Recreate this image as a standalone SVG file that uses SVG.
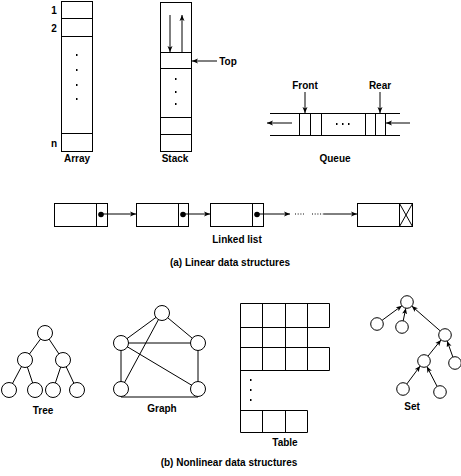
<svg xmlns="http://www.w3.org/2000/svg" width="461" height="476" viewBox="0 0 461 476">
<style>
.s{fill:none;stroke:#000;stroke-width:1}
.n{fill:#fff;stroke:#000;stroke-width:1}
.t{font-family:"Liberation Sans",Arial,sans-serif;font-size:10px;font-weight:bold;fill:#000;text-anchor:middle}
.d{fill:#000}
</style>
<defs>
<marker id="ah" markerUnits="userSpaceOnUse" markerWidth="7" markerHeight="6" refX="6" refY="3" orient="auto">
<path d="M0,0.5 L6,3 L0,5.5 L1.5,3 Z" fill="#000"/>
</marker>
</defs>
<rect width="461" height="476" fill="#fff"/>

<g id="connectors" class="s">
<line x1="170" y1="15" x2="170" y2="52" marker-end="url(#ah)"/>
<line x1="182" y1="52" x2="182" y2="15" marker-end="url(#ah)"/>
<line x1="217" y1="61" x2="192" y2="61" marker-end="url(#ah)"/>
<line x1="305" y1="92" x2="305" y2="113" marker-end="url(#ah)"/>
<line x1="380" y1="92" x2="380" y2="113" marker-end="url(#ah)"/>
<line x1="292" y1="123" x2="267" y2="123" marker-end="url(#ah)"/>
<line x1="410" y1="123" x2="386" y2="123" marker-end="url(#ah)"/>
<line x1="101" y1="214" x2="136" y2="214" marker-end="url(#ah)"/>
<line x1="183" y1="214" x2="210" y2="214" marker-end="url(#ah)"/>
<line x1="257" y1="214" x2="290" y2="214" marker-end="url(#ah)"/>
<line x1="295" y1="214" x2="304" y2="214" stroke-dasharray="1,1.7"/>
<line x1="312" y1="214" x2="324" y2="214" stroke-dasharray="1,1.7"/>
<line x1="324" y1="214" x2="357" y2="214" marker-end="url(#ah)"/>
<line x1="45" y1="333" x2="25" y2="360"/>
<line x1="45" y1="333" x2="63" y2="360"/>
<line x1="25" y1="360" x2="9" y2="390"/>
<line x1="25" y1="360" x2="35" y2="390"/>
<line x1="63" y1="360" x2="53" y2="390"/>
<line x1="63" y1="360" x2="77" y2="390"/>
<line x1="162" y1="313" x2="121" y2="343"/>
<line x1="162" y1="313" x2="198" y2="343"/>
<line x1="121" y1="343" x2="198" y2="343"/>
<line x1="121" y1="343" x2="121" y2="389"/>
<line x1="198" y1="343" x2="198" y2="389"/>
<line x1="162" y1="313" x2="121" y2="389"/>
<line x1="121" y1="343" x2="198" y2="389"/>
<line x1="121" y1="397" x2="198" y2="397"/>
<line x1="382.1" y1="320.3" x2="401.9" y2="305.7" marker-end="url(#ah)"/>
<line x1="403.2" y1="320.8" x2="405.8" y2="308.2" marker-end="url(#ah)"/>
<line x1="440.2" y1="330.9" x2="411.8" y2="306.1" marker-end="url(#ah)"/>
<line x1="428" y1="356.1" x2="441" y2="339.9" marker-end="url(#ah)"/>
<line x1="452.9" y1="357.1" x2="447.1" y2="340.9" marker-end="url(#ah)"/>
<line x1="406.8" y1="384" x2="420.2" y2="366" marker-end="url(#ah)"/>
<line x1="437.1" y1="386.4" x2="426.9" y2="366.6" marker-end="url(#ah)"/>
</g>

<g id="array">
<rect class="s" x="61.5" y="1.5" width="31" height="150"/>
<line class="s" x1="61.5" y1="18.5" x2="92.5" y2="18.5"/>
<line class="s" x1="61.5" y1="36.5" x2="92.5" y2="36.5"/>
<line class="s" x1="61.5" y1="133.5" x2="92.5" y2="133.5"/>
<rect class="d" x="76" y="54" width="1.5" height="2"/>
<rect class="d" x="76" y="69" width="1.5" height="2"/>
<rect class="d" x="76" y="84" width="1.5" height="2"/>
<rect class="d" x="76" y="98" width="1.5" height="2"/>
<text class="t" x="54" y="14">1</text>
<text class="t" x="54" y="32">2</text>
<text class="t" x="54" y="147">n</text>
<text class="t" x="77" y="162">Array</text>
</g>

<g id="stack">
<rect class="s" x="160.5" y="2.5" width="31" height="149"/>
<line class="s" x1="160.5" y1="52.5" x2="191.5" y2="52.5"/>
<line class="s" x1="160.5" y1="68.5" x2="191.5" y2="68.5"/>
<line class="s" x1="160.5" y1="117.5" x2="191.5" y2="117.5"/>
<line class="s" x1="160.5" y1="134.5" x2="191.5" y2="134.5"/>
<rect class="d" x="175" y="78" width="1.5" height="2"/>
<rect class="d" x="175" y="91" width="1.5" height="2"/>
<rect class="d" x="175" y="103" width="1.5" height="2"/>
<text class="t" x="228" y="65">Top</text>
<text class="t" x="175" y="162">Stack</text>
</g>

<g id="queue">
<line class="s" x1="270" y1="113.5" x2="400" y2="113.5"/>
<line class="s" x1="270" y1="135.5" x2="400" y2="135.5"/>
<line class="s" x1="299.5" y1="113.5" x2="299.5" y2="135.5"/>
<line class="s" x1="310.5" y1="113.5" x2="310.5" y2="135.5"/>
<line class="s" x1="321.5" y1="113.5" x2="321.5" y2="135.5"/>
<line class="s" x1="365.5" y1="113.5" x2="365.5" y2="135.5"/>
<line class="s" x1="375.5" y1="113.5" x2="375.5" y2="135.5"/>
<line class="s" x1="385.5" y1="113.5" x2="385.5" y2="135.5"/>
<rect class="d" x="336" y="123" width="1.5" height="2"/>
<rect class="d" x="342" y="123" width="1.5" height="2"/>
<rect class="d" x="348" y="123" width="1.5" height="2"/>
<text class="t" x="305" y="89">Front</text>
<text class="t" x="380" y="89">Rear</text>
<text class="t" x="335" y="162">Queue</text>
</g>

<g id="linked-list">
<rect class="s" x="54.5" y="203.5" width="53" height="23"/>
<line class="s" x1="96.5" y1="203.5" x2="96.5" y2="226.5"/>
<circle class="d" cx="101" cy="214.5" r="2.8"/>
<rect class="s" x="136.5" y="203.5" width="52" height="23"/>
<line class="s" x1="178.5" y1="203.5" x2="178.5" y2="226.5"/>
<circle class="d" cx="183" cy="214.5" r="2.8"/>
<rect class="s" x="210.5" y="203.5" width="53" height="23"/>
<line class="s" x1="252.5" y1="203.5" x2="252.5" y2="226.5"/>
<circle class="d" cx="257" cy="214.5" r="2.8"/>
<rect class="s" x="357.5" y="203.5" width="55" height="23"/>
<line class="s" x1="399.5" y1="203.5" x2="399.5" y2="226.5"/>
<line class="s" x1="399.5" y1="203.5" x2="412.5" y2="226.5"/>
<line class="s" x1="412.5" y1="203.5" x2="399.5" y2="226.5"/>
<text class="t" x="237" y="243">Linked list</text>
</g>

<text class="t" x="230" y="266">(a) Linear data structures</text>

<g id="tree">
<circle class="n" cx="45" cy="333" r="7.5"/>
<circle class="n" cx="25" cy="360" r="7.5"/>
<circle class="n" cx="63" cy="360" r="7.5"/>
<circle class="n" cx="9" cy="390" r="7.5"/>
<circle class="n" cx="35" cy="390" r="7.5"/>
<circle class="n" cx="53" cy="390" r="7.5"/>
<circle class="n" cx="77" cy="390" r="7.5"/>
<text class="t" x="43" y="414">Tree</text>
</g>

<g id="graph">
<circle class="n" cx="162" cy="313" r="7.5"/>
<circle class="n" cx="121" cy="343" r="7.5"/>
<circle class="n" cx="198" cy="343" r="7.5"/>
<circle class="n" cx="121" cy="389" r="7.5"/>
<circle class="n" cx="198" cy="389" r="7.5"/>
<text class="t" x="162" y="412">Graph</text>
</g>

<g id="table">
<path class="s" d="M240.5,303.5 H329.5 V327.5 H240.5 M240.5,347.5 H329.5 V370.5 H240.5 M240.5,303.5 V432.5 H307.5 V410.5 H240.5 M262.5,303.5 V370.5 M285.5,303.5 V370.5 M307.5,303.5 V370.5 M262.5,410.5 V432.5 M285.5,410.5 V432.5"/>
<rect class="d" x="250" y="379" width="1.5" height="2"/>
<rect class="d" x="250" y="389" width="1.5" height="2"/>
<rect class="d" x="250" y="399" width="1.5" height="2"/>
<text class="t" x="285" y="446">Table</text>
</g>

<g id="set">
<circle class="n" cx="407" cy="302" r="6.3"/>
<circle class="n" cx="377" cy="324" r="6.3"/>
<circle class="n" cx="402" cy="327" r="6.3"/>
<circle class="n" cx="445" cy="335" r="6.3"/>
<circle class="n" cx="424" cy="361" r="6.3"/>
<circle class="n" cx="455" cy="363" r="6.3"/>
<circle class="n" cx="403" cy="389" r="6.3"/>
<circle class="n" cx="440" cy="392" r="6.3"/>
<text class="t" x="412" y="410">Set</text>
</g>

<text class="t" x="229" y="466">(b) Nonlinear data structures</text>
</svg>
